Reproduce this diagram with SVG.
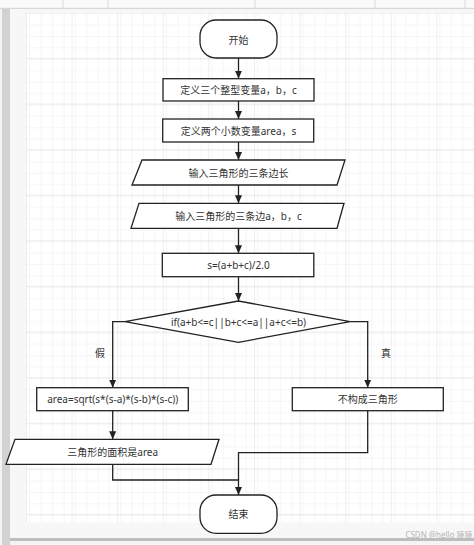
<svg xmlns="http://www.w3.org/2000/svg" width="474" height="545" viewBox="0 0 474 545">
<defs>
<pattern id="minor" x="26" y="12.3" width="11.4" height="11.4" patternUnits="userSpaceOnUse">
<path d="M0,0 V11.4 M0,0 H11.4" fill="none" stroke="#ececec" stroke-width="1"/>
</pattern>
<pattern id="major" x="26" y="12.3" width="45.6" height="45.6" patternUnits="userSpaceOnUse">
<rect width="45.6" height="45.6" fill="url(#minor)"/>
<path d="M0,0 V45.6 M0,0 H45.6" fill="none" stroke="#dedede" stroke-width="1"/>
</pattern>
<marker id="arr" markerWidth="8" markerHeight="8" refX="8" refY="4" orient="auto" markerUnits="userSpaceOnUse">
<path d="M0,0.5 L8,4 L0,7.5 z" fill="#222"/>
</marker>
<style>
.shape{fill:#fff;stroke:#222;stroke-width:1.3}
.t{font-family:"Noto Sans","Noto Sans CJK SC",sans-serif;font-size:10px;fill:#333;text-anchor:middle;dominant-baseline:central}
.c{fill:none;stroke:#222;stroke-width:1.3}
</style>
</defs>
<g id="background">
<rect x="0" y="0" width="474" height="545" fill="#f4f4f4"/>
<rect x="0" y="0" width="474" height="8" fill="#fafafa"/>
<line x1="0" y1="8.3" x2="474" y2="8.3" stroke="#d0d0d0" stroke-width="1"/>
<path d="M63,0 V8 M108,0 V8 M255,0 V8 M375,0 V8 M465,0 V8" stroke="#dadada" stroke-width="1"/>
<rect x="2" y="9" width="8" height="536" fill="#d2d2d2"/>
<rect x="10" y="9" width="464" height="529" fill="#f7f7f7"/>
<rect x="26" y="12.3" width="448" height="510" fill="#fff"/>
<rect x="26" y="12.3" width="448" height="510" fill="url(#major)"/>
<rect x="10" y="538" width="464" height="3" fill="#bdbdbd"/>
<text x="439" y="534" font-family="'Noto Sans','Noto Sans CJK SC',sans-serif" font-size="8" fill="#b5b5b5" text-anchor="middle" dominant-baseline="central">CSDN @hello 猿猿</text>
</g>
<g id="connectors">
<path class="c" d="M238.5,58 V78.7" marker-end="url(#arr)"/>
<path class="c" d="M238.5,101 V119" marker-end="url(#arr)"/>
<path class="c" d="M238.5,142 V160" marker-end="url(#arr)"/>
<path class="c" d="M238.5,185 V203.3" marker-end="url(#arr)"/>
<path class="c" d="M238.5,228.3 V253.3" marker-end="url(#arr)"/>
<path class="c" d="M238.5,276.7 V301" marker-end="url(#arr)"/>
<path class="c" d="M125,321.7 H112.7 V387.7" marker-end="url(#arr)"/>
<path class="c" d="M350,321.7 H367.7 V387.7" marker-end="url(#arr)"/>
<path class="c" d="M112.7,410.7 V439.3" marker-end="url(#arr)"/>
<path class="c" d="M112.7,464.3 V480 H238.5 V495" marker-end="url(#arr)"/>
<path class="c" d="M367.7,410.7 V452.7 H238.5 V480"/>
<text class="t" x="100" y="353">假</text>
<text class="t" x="386" y="353">真</text>
</g>
<g id="start">
<rect class="shape" x="200" y="20" width="77" height="38" rx="16" ry="16"/>
<text class="t" x="238.5" y="39.5">开始</text>
</g>
<g id="define-int">
<rect class="shape" x="163" y="78.7" width="151" height="22.3"/>
<text class="t" x="238.5" y="90">定义三个整型变量a，b，c</text>
</g>
<g id="define-float">
<rect class="shape" x="162.7" y="119" width="151" height="23"/>
<text class="t" x="238.5" y="130.5">定义两个小数变量area，s</text>
</g>
<g id="input-prompt">
<polygon class="shape" points="142,160 345,160 337,185 132,185"/>
<text class="t" x="238.5" y="172.5">输入三角形的三条边长</text>
</g>
<g id="input-abc">
<polygon class="shape" points="139,203.3 344,203.3 337,228.3 131,228.3"/>
<text class="t" x="238.5" y="215.8">输入三角形的三条边a，b，c</text>
</g>
<g id="compute-s">
<rect class="shape" x="162.3" y="253.3" width="151.5" height="23.4"/>
<text class="t" x="238.5" y="265">s=(a+b+c)/2.0</text>
</g>
<g id="decision">
<polygon class="shape" points="238.5,301 350,321.7 238.5,342.3 125,321.7"/>
<text class="t" x="238.5" y="321.7">if(a+b&lt;=c||b+c&lt;=a||a+c&lt;=b)</text>
</g>
<g id="area-calc">
<rect class="shape" x="36.7" y="387.7" width="151.6" height="23"/>
<text class="t" x="112.7" y="399.2">area=sqrt(s*(s-a)*(s-b)*(s-c))</text>
</g>
<g id="not-triangle">
<rect class="shape" x="292.3" y="387.7" width="151" height="23"/>
<text class="t" x="367.7" y="399.2">不构成三角形</text>
</g>
<g id="output-area">
<polygon class="shape" points="15,439.3 219,439.3 211,464.3 6,464.3"/>
<text class="t" x="112.7" y="451.8">三角形的面积是area</text>
</g>
<g id="end">
<rect class="shape" x="200" y="495" width="77" height="38.3" rx="16" ry="16"/>
<text class="t" x="238.5" y="514">结束</text>
</g>
</svg>
